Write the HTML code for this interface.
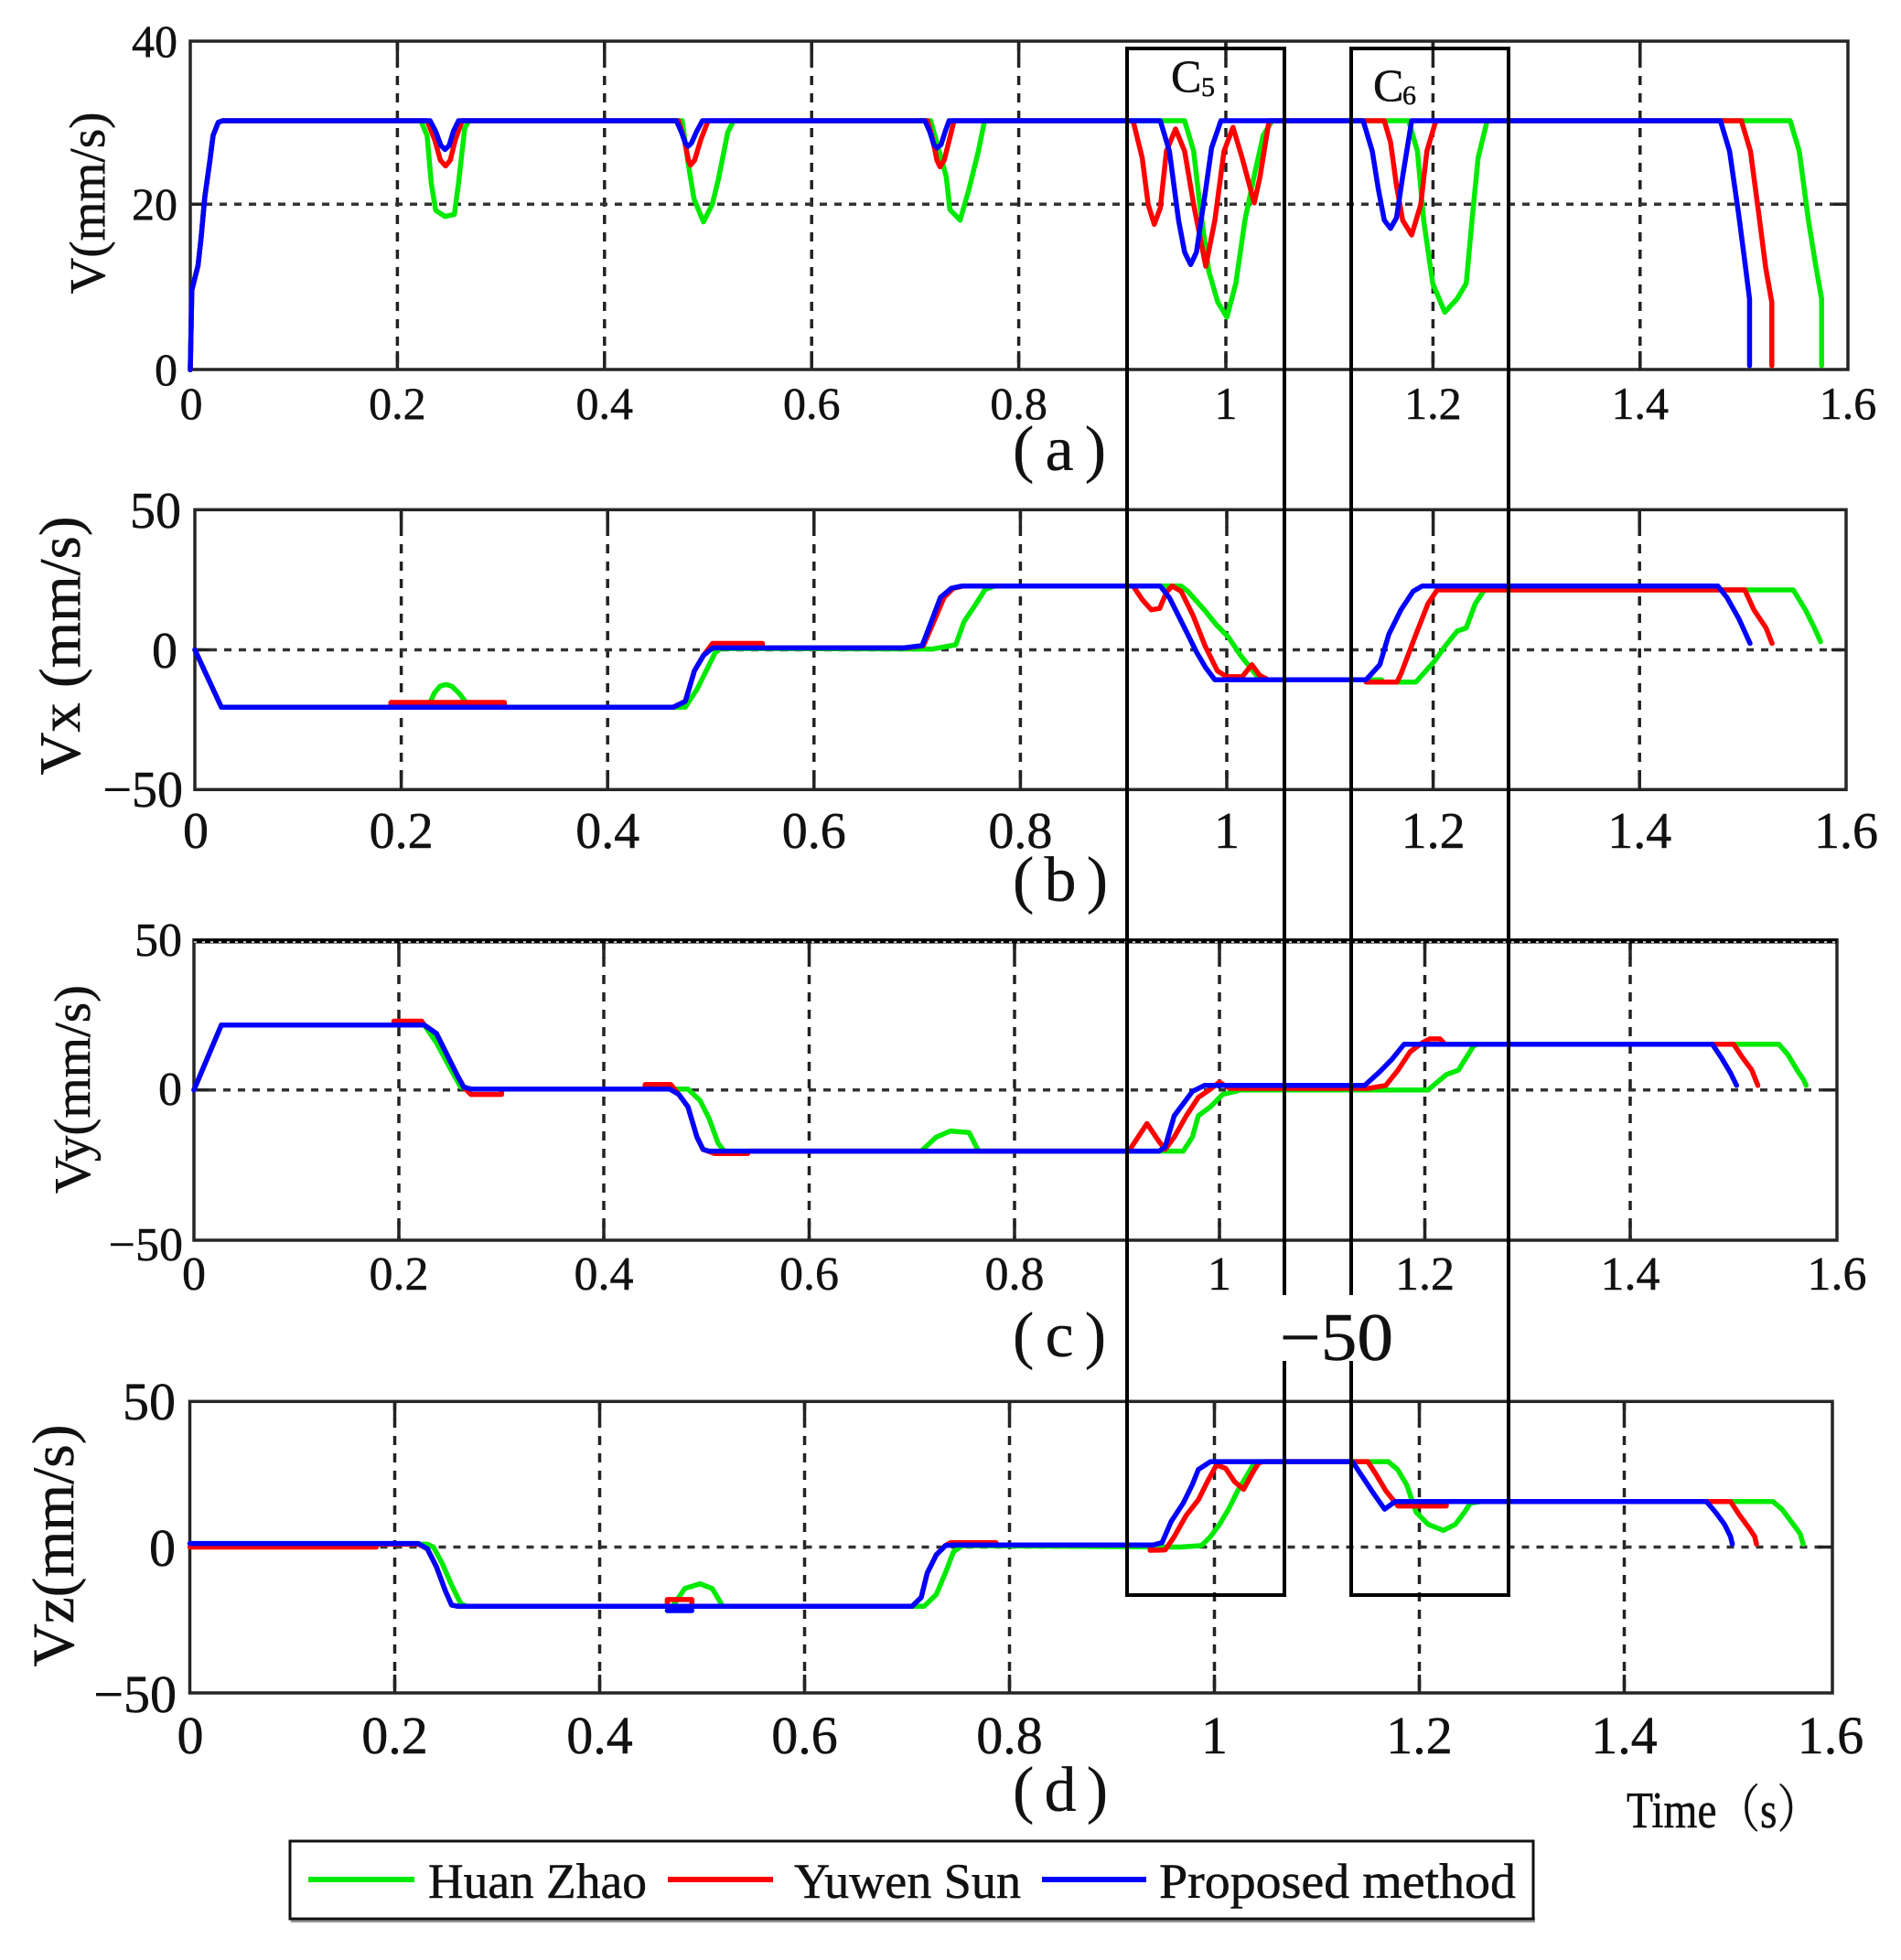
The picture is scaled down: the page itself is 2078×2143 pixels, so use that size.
<!DOCTYPE html>
<html><head><meta charset="utf-8"><style>
html,body{margin:0;padding:0;background:#fff;}
svg{display:block;}
text{font-family:"Liberation Serif","Noto Serif CJK SC",serif;fill:#111;stroke:#111;stroke-width:0.5;}
.fr{fill:none;stroke:#262626;stroke-width:3.5;}
.gv{stroke:#222;stroke-width:3.5;stroke-dasharray:10 9;fill:none;}
.gh{stroke:#333;stroke-width:3.5;stroke-dasharray:8 8;fill:none;}
.tk{stroke:#222;stroke-width:3.5;fill:none;}
.s{fill:none;stroke-width:5.5;stroke-linejoin:round;stroke-linecap:round;vector-effect:non-scaling-stroke;}
.g{stroke:#00ea00;}
.r{stroke:#ff0000;}
.b{stroke:#0000ff;}
.bx{stroke:#000;stroke-width:4;fill:none;}
.lab{stroke-width:0.3;}
</style></head><body>
<svg width="2078" height="2143" viewBox="0 0 2078 2143" xmlns="http://www.w3.org/2000/svg">
<rect width="2078" height="2143" fill="#fff"/>

<!-- ================= PANEL A ================= -->
<g>
<path class="gv" d="M434.4 45V404 M660.8 45V404 M887.2 45V404 M1113.6 45V404 M1340 45V404 M1566.4 45V404 M1792.8 45V404"/>
<path class="gh" d="M208 223.3H2020"/>
<path class="tk" d="M434.4 45v20M660.8 45v20M887.2 45v20M1113.6 45v20M1340 45v20M1566.4 45v20M1792.8 45v20
M434.4 404v-20M660.8 404v-20M887.2 404v-20M1113.6 404v-20M1340 404v-20M1566.4 404v-20M1792.8 404v-20
M208 223.3h16M2020 223.3h-16"/>
<rect class="fr" x="208" y="45" width="1812" height="359"/>
<g transform="matrix(1132 0 0 -8.985 208 404.3)">
<polyline class="s g" points="0,0 0.0015,9.7 0.0075,12.7 0.0104,16 0.014,21 0.019,25.5 0.022,28.5 0.027,30.1 0.031,30.3 0.2226,30.3 0.2287,28.5 0.2327,22.7 0.237,19.4 0.246,18.65 0.255,18.9 0.259,22.7 0.265,29.4 0.269,30.3 0.475,30.3 0.4808,25.1 0.4864,20.8 0.4955,18 0.504,20.1 0.51,23.2 0.519,28.9 0.5246,30.3 0.715,30.3 0.73,23.5 0.7335,19.5 0.7434,18.2 0.752,22 0.761,26.6 0.767,30.3 0.9602,30.3 0.9689,26.6 0.9748,20.1 0.9835,12 0.9923,8.2 1.001,6.4 1.0096,10.5 1.0184,18.2 1.0272,23.5 1.036,28.5 1.0447,30.3 1.1765,30.3 1.185,26.6 1.191,18.2 1.1998,10.5 1.2114,7 1.2231,8.6 1.2321,10.5 1.2377,18.2 1.2436,25.8 1.2523,30.3 1.5449,30.3 1.5537,26.6 1.5625,18.2 1.57,12.4 1.5753,8.6 1.5753,0.5"/>
<polyline class="s r" points="0,0 0.0015,9.7 0.0075,12.7 0.0104,16 0.014,21 0.019,25.5 0.022,28.5 0.027,30.1 0.031,30.3 0.2287,30.3 0.236,28 0.2415,25.5 0.2465,24.8 0.251,25.5 0.256,28 0.2625,30.3 0.4715,30.3 0.477,28 0.481,25.5 0.483,24.9 0.487,25.5 0.493,28 0.5,30.3 0.712,30.3 0.717,28 0.721,25.5 0.724,24.7 0.728,25.5 0.733,28 0.7375,30.3 0.9104,30.3 0.9192,25.8 0.925,20.1 0.9309,17.7 0.9367,19.7 0.9426,26.6 0.9514,29.3 0.9602,26.6 0.9689,20.1 0.9806,12.6 0.9894,18.2 0.9982,26.6 1.0069,29.5 1.0157,25.8 1.0274,20.3 1.033,23.5 1.0417,30.3 1.153,30.3 1.159,27.7 1.1648,22.4 1.1707,18.2 1.1794,16.4 1.1882,20.1 1.1941,26.6 1.2028,30.3 1.4978,30.3 1.5066,26.6 1.5154,18.2 1.5213,12.4 1.5272,8.2 1.5272,0.5"/>
<polyline class="s b" points="0,0 0.0015,9.7 0.0075,12.7 0.0104,16 0.014,21 0.019,25.5 0.022,28.5 0.027,30.1 0.031,30.3 0.2316,30.3 0.237,29 0.242,27.3 0.246,26.8 0.25,27.3 0.254,29 0.259,30.3 0.4694,30.3 0.474,29 0.478,27.6 0.4808,27.2 0.484,27.6 0.489,29 0.4945,30.3 0.7094,30.3 0.714,29 0.718,27.4 0.721,27 0.725,27.4 0.729,29 0.7327,30.3 0.9367,30.3 0.9455,26.6 0.9543,18.2 0.9602,14.3 0.966,12.8 0.9716,14.3 0.9806,22 0.9862,27 0.9952,30.3 1.1326,30.3 1.1414,26.6 1.1472,22 1.153,18.2 1.159,17.2 1.1648,18.5 1.1707,23.5 1.1794,30.3 1.4776,30.3 1.4864,26.6 1.4952,18.9 1.5011,13.2 1.5057,8.6 1.5057,0.5"/>
</g>
<g font-size="50" text-anchor="end">
<text x="194" y="62">40</text><text x="194" y="240">20</text><text x="194" y="421">0</text>
</g>
<g font-size="50" text-anchor="middle">
<text x="209" y="458">0</text><text x="434.4" y="458">0.2</text><text x="660.8" y="458">0.4</text><text x="887.2" y="458">0.6</text><text x="1113.6" y="458">0.8</text><text x="1340" y="458">1</text><text x="1566.4" y="458">1.2</text><text x="1792.8" y="458">1.4</text><text x="2020" y="458">1.6</text>
</g>
<text transform="translate(114,222) rotate(-90)" text-anchor="middle" font-size="55" textLength="199" lengthAdjust="spacingAndGlyphs">V(mm/s)</text>
<text class="lab" x="1107" y="514" font-size="70" textLength="102" lengthAdjust="spacing">(a)</text>
</g>

<!-- ================= PANEL B ================= -->
<g>
<path class="gv" d="M438.6 557V863 M664.2 557V863 M889.8 557V863 M1115.4 557V863 M1341 557V863 M1566.6 557V863 M1792.2 557V863"/>
<path class="gh" d="M213 710.5H2018"/>
<path class="tk" d="M438.6 557v20M664.2 557v20M889.8 557v20M1115.4 557v20M1341 557v20M1566.6 557v20M1792.2 557v20
M438.6 863v-20M664.2 863v-20M889.8 863v-20M1115.4 863v-20M1341 863v-20M1566.6 863v-20M1792.2 863v-20
M213 710.5h16M2018 710.5h-16"/>
<rect class="fr" x="213" y="557.3" width="1805" height="306"/>
<g transform="matrix(1128 0 0 -3.06 213 710.5)">
<polyline class="s g" points="0,0 0.0257,-20.5 0.2278,-20.5 0.2278,-19 0.232,-15.5 0.2375,-13 0.2433,-12.4 0.249,-13 0.256,-15.5 0.2632,-19 0.2632,-20.5 0.4753,-20.5 0.4867,-14 0.4955,-7.5 0.5043,-0.9 0.5102,0.5 0.7151,0.3 0.7374,1.8 0.7453,10 0.7571,16.5 0.7659,21.6 0.775,22.8 0.9558,22.8 0.962,21 0.9782,14.3 0.99,8.9 1.0017,4.5 1.0134,-2 1.0252,-7.5 1.03,-9.6 1.035,-10.7 1.15,-10.7 1.15,-11.5 1.1833,-11.5 1.201,-4.2 1.2114,1.2 1.2233,6.7 1.232,7.8 1.2408,16.5 1.2496,21.4 1.549,21.4 1.5607,14.3 1.5695,7.8 1.5754,2.9"/>
<polyline class="s r" points="0,0 0.0257,-20.5 0.19,-20.5 0.19,-18.8 0.30,-18.8 0.30,-20.5 0.4636,-20.5 0.4753,-18.4 0.4841,-7.5 0.4929,-2 0.5017,2.3 0.55,2.3 0.55,0.7 0.69,0.7 0.706,1.5 0.716,10 0.726,18.7 0.735,22 0.745,22.8 0.9092,22.8 0.918,18 0.9268,14.3 0.935,14.8 0.9414,20.5 0.947,22.8 0.9558,20.9 0.9675,12.1 0.9792,1.2 0.9909,-7.5 0.9997,-9.6 1.015,-9.6 1.0243,-5.3 1.0318,-9.1 1.04,-10.7 1.135,-10.7 1.135,-11.5 1.165,-11.5 1.1688,-8.6 1.1834,5.6 1.195,16.5 1.2039,21.4 1.502,21.4 1.5108,14.3 1.5226,7.8 1.5284,2.3"/>
<polyline class="s b" points="0,0 0.0257,-20.5 0.4636,-20.5 0.4753,-18.4 0.4841,-7.5 0.4929,-2 0.5017,0.7 0.6871,0.7 0.7048,1.5 0.7136,10 0.7225,18.7 0.733,22 0.7435,22.8 0.9355,22.8 0.9443,18.7 0.9591,7.8 0.9708,-0.9 0.9796,-6.4 0.9884,-10.7 1.135,-10.7 1.1483,-5.3 1.1571,5.6 1.1688,14.3 1.1806,20.9 1.1894,22.8 1.4759,22.8 1.4847,18.7 1.4964,11 1.5071,2.3"/>
</g>
<g font-size="56" text-anchor="end">
<text x="198" y="577">50</text><text x="194" y="730">0</text><text x="200" y="882">−50</text>
</g>
<g font-size="56" text-anchor="middle">
<text x="214" y="927">0</text><text x="438.6" y="927">0.2</text><text x="664.2" y="927">0.4</text><text x="889.8" y="927">0.6</text><text x="1115.4" y="927">0.8</text><text x="1341" y="927">1</text><text x="1566.6" y="927">1.2</text><text x="1792.2" y="927">1.4</text><text x="2018" y="927">1.6</text>
</g>
<text transform="translate(87,706) rotate(-90)" text-anchor="middle" font-size="64" textLength="283" lengthAdjust="spacingAndGlyphs">Vx (mm/s)</text>
<text class="lab" x="1107" y="985" font-size="70" textLength="104" lengthAdjust="spacing">(b)</text>
</g>

<!-- ================= PANEL C ================= -->
<g>
<path class="gv" d="M436 1028V1356 M660 1028V1356 M884.5 1028V1356 M1109 1028V1356 M1333 1028V1356 M1557.5 1028V1356 M1782 1028V1356"/>
<path class="gh" d="M212 1191.7H2008"/>
<path class="tk" d="M436 1028v20M660 1028v20M884.5 1028v20M1109 1028v20M1333 1028v20M1557.5 1028v20M1782 1028v20
M436 1356v-20M660 1356v-20M884.5 1356v-20M1109 1356v-20M1333 1356v-20M1557.5 1356v-20M1782 1356v-20
M212 1191.7h16M2008 1191.7h-16"/>
<rect class="fr" x="212" y="1027.7" width="1796" height="328.3"/>
<path d="M212 1029H2008" stroke="#000" stroke-width="5"/>
<path d="M212 1030H2008" stroke="#fff" stroke-width="1.5" stroke-dasharray="3 6"/>
<g transform="matrix(1121 0 0 -3.283 212 1191.7)">
<polyline class="s g" points="0,0 0.0267,21.6 0.2247,21.6 0.2365,15.7 0.2483,8.2 0.26,1 0.27,0.3 0.47,0.3 0.4817,0.3 0.4935,-3.5 0.5024,-9.6 0.5112,-17.8 0.517,-20.4 0.7091,-20.4 0.7238,-15.7 0.7376,-13.7 0.7559,-14.2 0.7642,-19.8 0.766,-20.4 0.9647,-20.4 0.9736,-15.7 0.9794,-8.6 0.9913,-5.6 1.003,-1.5 1.021,0 1.2035,0 1.2124,2.6 1.2212,5.1 1.233,6.6 1.2478,14.7 1.252,15.2 1.5456,15.2 1.5544,11.7 1.5633,6.6 1.5692,3.6 1.5721,1.5"/>
<polyline class="s r" points="0,0 0.0267,21.6 0.195,21.6 0.195,22.9 0.222,22.9 0.2247,21.6 0.2365,18.8 0.2483,10.7 0.2572,4.6 0.263,1 0.27,-1.5 0.30,-1.5 0.30,0.3 0.44,0.3 0.44,1.8 0.465,1.8 0.4728,-1.5 0.4817,-5.6 0.4905,-15.7 0.4964,-19.8 0.508,-21.2 0.54,-21.2 0.54,-20.4 0.9116,-20.4 0.9293,-11.2 0.9411,-17.2 0.947,-19.8 0.9559,-15.7 0.9677,-8.6 0.9794,-2.5 0.9913,0.3 1.0,2.6 1.01,0.5 1.1446,0.5 1.1622,1.5 1.1741,6.6 1.1859,12.7 1.1977,15.7 1.205,17 1.215,17 1.22,15.2 1.5014,15.2 1.5102,10.7 1.5191,6.6 1.525,1.5"/>
<polyline class="s b" points="0,0 0.0267,21.6 0.2247,21.6 0.2365,18.8 0.2483,10.7 0.2572,4.6 0.263,1 0.27,0.3 0.464,0.3 0.4728,-1.5 0.4817,-5.6 0.4905,-15.7 0.4964,-19.8 0.5023,-20.4 0.9411,-20.4 0.947,-19 0.9559,-8.6 0.9647,-4.6 0.9736,-0.5 0.9853,1.5 1.1416,1.5 1.1564,6.1 1.1682,10.2 1.18,15.2 1.4807,15.2 1.4895,10.7 1.4984,5.6 1.5043,1.5"/>
</g>
<g font-size="52" text-anchor="end">
<text x="199" y="1045">50</text><text x="199" y="1208">0</text><text x="200" y="1378">−50</text>
</g>
<g font-size="52" text-anchor="middle">
<text x="212" y="1410">0</text><text x="436" y="1410">0.2</text><text x="660" y="1410">0.4</text><text x="884.5" y="1410">0.6</text><text x="1109" y="1410">0.8</text><text x="1333" y="1410">1</text><text x="1557.5" y="1410">1.2</text><text x="1782" y="1410">1.4</text><text x="2008" y="1410">1.6</text>
</g>
<text transform="translate(98,1191) rotate(-90)" text-anchor="middle" font-size="56" textLength="228" lengthAdjust="spacingAndGlyphs">Vy(mm/s)</text>
<text class="lab" x="1107" y="1483" font-size="70" textLength="102" lengthAdjust="spacing">(c)</text>
</g>

<!-- ================= PANEL D ================= -->
<g>
<path class="gv" d="M431.5 1532V1851 M655.5 1532V1851 M879.5 1532V1851 M1103.5 1532V1851 M1327.5 1532V1851 M1551.5 1532V1851 M1775.5 1532V1851"/>
<path class="gh" d="M207.5 1691.5H2003"/>
<path class="tk" d="M431.5 1532v20M655.5 1532v20M879.5 1532v20M1103.5 1532v20M1327.5 1532v20M1551.5 1532v20M1775.5 1532v20
M431.5 1851v-20M655.5 1851v-20M879.5 1851v-20M1103.5 1851v-20M1327.5 1851v-20M1551.5 1851v-20M1775.5 1851v-20
M207.5 1691.5h16M2003 1691.5h-16"/>
<rect class="fr" x="207.5" y="1532.3" width="1795.5" height="318.7"/>
<g transform="matrix(1120 0 0 -3.187 207.5 1691.5)">
<polyline class="s g" points="0.182,1 0.2318,1 0.2377,0 0.2466,-5.8 0.2555,-13.1 0.2644,-19.4 0.27,-20.3 0.4713,-20.3 0.4831,-14.2 0.498,-12.6 0.5098,-14.2 0.5186,-19.4 0.5186,-20.3 0.7167,-20.3 0.7285,-16.3 0.7374,-8.9 0.7453,-1.6 0.7541,0.5 0.9667,0 0.9873,0.5 0.9962,3.6 1.005,7.8 1.0138,13 1.0227,19.3 1.0316,24.5 1.0375,28 1.042,29.3 1.1698,29.3 1.1787,26.6 1.1876,21.4 1.1968,12 1.2086,7.8 1.2234,5.7 1.2352,7.8 1.2441,12 1.2499,15.1 1.26,15.6 1.5451,15.6 1.5539,13 1.5628,8.8 1.5716,4.6 1.5746,1"/>
<polyline class="s r" points="0,0 0.182,0 0.182,1 0.223,1 0.2318,-0.6 0.2407,-6.8 0.2496,-15.2 0.2555,-19.9 0.2614,-20.3 0.466,-20.3 0.466,-18 0.49,-18 0.49,-20.3 0.7049,-20.3 0.7138,-17.3 0.7197,-8.9 0.7285,-2.7 0.7374,0.5 0.7424,1.5 0.7869,1.5 0.7869,0.7 0.9372,0.7 0.9372,-1.1 0.9519,-1 0.9608,3.6 0.9725,10.9 0.9843,16.2 0.9931,22.4 1.002,28.2 1.0109,27 1.0197,22.4 1.0285,19.8 1.0374,25.6 1.0433,28.9 1.048,29.3 1.1497,29.3 1.1585,24.5 1.1673,19.3 1.1791,14.1 1.2263,14.1 1.2263,15.6 1.5037,15.6 1.5126,10.9 1.5214,6.7 1.5273,3.6 1.529,1"/>
<polyline class="s b" points="0,1.2 0.223,1.2 0.2318,-0.6 0.2407,-6.8 0.2496,-15.2 0.2555,-19.9 0.2614,-20.3 0.7049,-20.3 0.7138,-17.3 0.7197,-8.9 0.7285,-2.7 0.7374,0.5 0.745,0.7 0.9401,0.7 0.9489,1.5 0.9578,8.8 0.9696,15.1 0.9784,21.4 0.9843,26.6 0.9962,29.3 1.1348,29.3 1.1437,24.5 1.1555,18.3 1.1661,13 1.1762,15.6 1.4802,15.6 1.489,12 1.4978,7.8 1.5037,3.6 1.5055,1"/>
<polyline class="s b" points="0.466,-21.8 0.49,-21.8"/>
</g>
<g font-size="58" text-anchor="end">
<text x="192" y="1552">50</text><text x="192" y="1712">0</text><text x="193" y="1872">−50</text>
</g>
<g font-size="58" text-anchor="middle">
<text x="208" y="1917">0</text><text x="431.5" y="1917">0.2</text><text x="655.5" y="1917">0.4</text><text x="879.5" y="1917">0.6</text><text x="1103.5" y="1917">0.8</text><text x="1327.5" y="1917">1</text><text x="1551.5" y="1917">1.2</text><text x="1775.5" y="1917">1.4</text><text x="2001" y="1917">1.6</text>
</g>
<text transform="translate(80,1690) rotate(-90)" text-anchor="middle" font-size="65" textLength="265" lengthAdjust="spacingAndGlyphs">Vz(mm/s)</text>
<text class="lab" x="1107" y="1980" font-size="70" textLength="104" lengthAdjust="spacing">(d)</text>
<text x="1778" y="1998" font-size="56" textLength="212" lengthAdjust="spacingAndGlyphs">Time（s）</text>
</g>

<!-- ================= C5 / C6 boxes ================= -->
<path class="bx" d="M1404 1416V53H1232V1744H1404V1488"/>
<path class="bx" d="M1477 1416V53H1649V1744H1477V1488"/>
<text x="1280" y="100" font-size="50">C</text><text x="1313" y="105" font-size="30">5</text>
<text x="1501" y="110" font-size="50">C</text><text x="1533" y="114" font-size="30">6</text>
<text x="1399" y="1487" font-size="74" textLength="124" lengthAdjust="spacingAndGlyphs">−50</text>

<!-- ================= Legend ================= -->
<rect x="318" y="2096" width="1360" height="6" fill="#9a9a9a"/>
<rect x="317" y="2013" width="1359" height="85" fill="#fff" stroke="#111" stroke-width="3"/>
<path d="M337 2055H453" stroke="#00ea00" stroke-width="6"/>
<path d="M730 2055H845" stroke="#ff0000" stroke-width="6"/>
<path d="M1139 2055H1253" stroke="#0000ff" stroke-width="6"/>
<g font-size="54">
<text x="468" y="2075" textLength="239" lengthAdjust="spacingAndGlyphs">Huan Zhao</text>
<text x="868" y="2075" textLength="248" lengthAdjust="spacingAndGlyphs">Yuwen Sun</text>
<text x="1267" y="2075" textLength="390" lengthAdjust="spacingAndGlyphs">Proposed method</text>
</g>
</svg>
</body></html>
